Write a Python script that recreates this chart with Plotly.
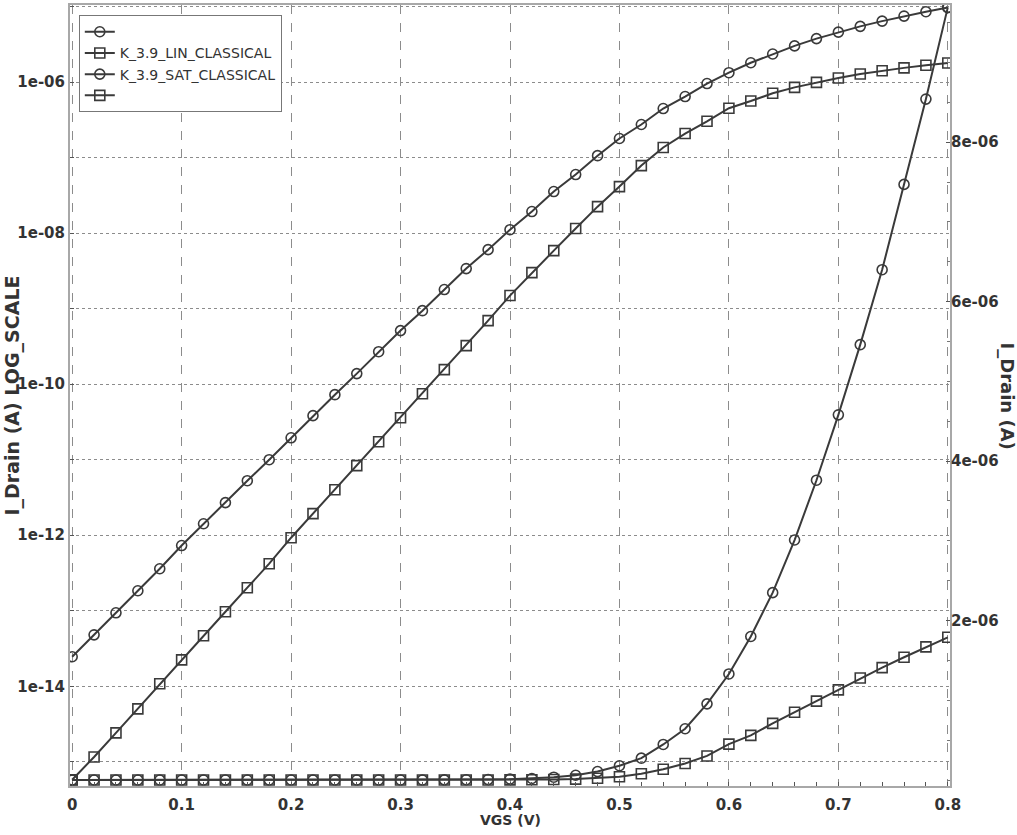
import plotly.graph_objects as go

# gate voltage sweep (V)
vgs = [0.00, 0.02, 0.04, 0.06, 0.08, 0.10, 0.12, 0.14, 0.16, 0.18,
       0.20, 0.22, 0.24, 0.26, 0.28, 0.30, 0.32, 0.34, 0.36, 0.38,
       0.40, 0.42, 0.44, 0.46, 0.48, 0.50, 0.52, 0.54, 0.56, 0.58,
       0.60, 0.62, 0.64, 0.66, 0.68, 0.70, 0.72, 0.74, 0.76, 0.78, 0.80]

# drain current, saturation (A)
id_sat = [2.46e-14, 4.8e-14, 9.4e-14, 1.84e-13, 3.6e-13, 7.3e-13, 1.42e-12, 2.70e-12, 5.27e-12, 1.0e-11,
          1.95e-11, 3.83e-11, 7.26e-11, 1.38e-10, 2.69e-10, 5.12e-10, 9.4e-10, 1.79e-09, 3.39e-09, 6.04e-09,
          1.11e-08, 1.93e-08, 3.55e-08, 5.96e-08, 1.06e-07, 1.79e-07, 2.74e-07, 4.46e-07, 6.43e-07, 9.55e-07,
          1.33e-06, 1.80e-06, 2.35e-06, 3.01e-06, 3.76e-06, 4.58e-06, 5.46e-06, 6.40e-06, 7.47e-06, 8.54e-06,
          9.69e-06]

# drain current, linear region (A)
id_lin = [5.8e-16, 1.16e-15, 2.42e-15, 5.03e-15, 1.08e-14, 2.24e-14, 4.67e-14, 9.7e-14, 2.02e-13, 4.2e-13,
          9.27e-13, 1.93e-12, 4.01e-12, 8.34e-12, 1.73e-11, 3.6e-11, 7.48e-11, 1.56e-10, 3.24e-10, 6.93e-10,
          1.49e-09, 3.0e-09, 5.86e-09, 1.15e-08, 2.24e-08, 4.13e-08, 7.83e-08, 1.36e-07, 2.08e-07, 3.02e-07,
          4.5e-07, 5.6e-07, 7.1e-07, 8.5e-07, 9.9e-07, 1.13e-06, 1.28e-06, 1.41e-06, 1.54e-06, 1.67e-06,
          1.79e-06]

x_ticks = [0, 0.1, 0.2, 0.3, 0.4, 0.5, 0.6, 0.7, 0.8]
x_labels = ["0", "0.1", "0.2", "0.3", "0.4", "0.5", "0.6", "0.7", "0.8"]
log_ticks = [1e-15, 1e-14, 1e-13, 1e-12, 1e-11, 1e-10, 1e-09, 1e-08, 1e-07, 1e-06, 1e-05]
log_labels = ["", "1e-14", "", "1e-12", "", "1e-10", "", "1e-08", "", "1e-06", ""]
lin_ticks = [2e-06, 4e-06, 6e-06, 8e-06]
lin_labels = ["2e-06", "4e-06", "6e-06", "8e-06"]

LINE = "#3a3a3a"
FRAME = "#a8a8a8"
GRID = "#8c8c8c"
FONT = "DejaVu Sans"
tick_font = dict(family=FONT, size=15, color="#333", weight="bold")

fig = go.Figure()


def add(y, name, symbol, axis):
    fig.add_trace(go.Scatter(
        x=vgs, y=y, name=name, yaxis=axis, mode="lines+markers",
        line=dict(color=LINE, width=2),
        marker=dict(symbol=symbol, size=10, color=LINE, line=dict(color=LINE, width=1.6)),
    ))


add(id_sat, " ", "circle-open", "y2")
add(id_lin, "K_3.9_LIN_CLASSICAL", "square-open", "y")
add(id_sat, "K_3.9_SAT_CLASSICAL", "circle-open", "y")
add(id_lin, "  ", "square-open", "y2")

fig.update_layout(
    width=1017, height=835,
    margin=dict(l=70, r=67, t=5, b=49),
    paper_bgcolor="white", plot_bgcolor="white",
    font=dict(family=FONT, color="#333"),
    showlegend=True,
    legend=dict(
        x=0.01, y=0.987, xanchor="left", yanchor="top",
        bgcolor="white", bordercolor="#777", borderwidth=1,
        font=dict(family=FONT, size=14, color="#333"),
        tracegroupgap=0, itemwidth=30,
    ),
    xaxis=dict(
        range=[-0.002, 0.802], tickvals=x_ticks, ticktext=x_labels, automargin=False,
        tickfont=tick_font, showgrid=True, gridcolor=GRID, griddash="dash", gridwidth=1,
        zeroline=False, showline=True, linecolor=FRAME, linewidth=2, mirror=True,
        ticks="inside", ticklen=4, tickcolor="#555", ticklabelstandoff=4,
        minor=dict(dtick=0.02, ticks="inside", ticklen=4, tickcolor="#555", showgrid=False),
    ),
    yaxis=dict(
        type="log", range=[-15.32, -4.98], tickvals=log_ticks, ticktext=log_labels, automargin=False,
        tickfont=tick_font, showgrid=True, gridcolor=GRID, griddash="dot", gridwidth=1,
        zeroline=False, showline=True, linecolor=FRAME, linewidth=2, mirror=True,
        ticks="inside", ticklen=4, tickcolor="#555",
    ),
    yaxis2=dict(
        overlaying="y", side="right", range=[-0.075e-06, 9.72e-06], automargin=False,
        tickvals=lin_ticks, ticktext=lin_labels, tickfont=tick_font,
        showgrid=False, zeroline=False, ticks="inside", ticklen=4, tickcolor="#555",
        minor=dict(dtick=0.5e-06, ticks="inside", ticklen=3, tickcolor="#777"),
    ),
    annotations=[
        dict(text="<b>I_Drain (A) LOG_SCALE</b>", xref="paper", yref="paper", x=0, y=0.5,
             xanchor="center", yanchor="middle", xshift=-58, textangle=-90, showarrow=False,
             font=dict(family=FONT, size=19, color="#333")),
        dict(text="<b>I_Drain (A)</b>", xref="paper", yref="paper", x=1, y=0.5,
             xanchor="center", yanchor="middle", xshift=57, textangle=90, showarrow=False,
             font=dict(family=FONT, size=18, color="#333")),
        dict(text="<b>VGS (V)</b>", xref="paper", yref="paper", x=0.5, y=0,
             xanchor="center", yanchor="middle", yshift=-34, showarrow=False,
             font=dict(family=FONT, size=14, color="#333")),
    ],
)

# drop the page's default body margin so the figure sits at the window origin
fig.write_html("out.html", config={"displayModeBar": False},
               post_script="document.body.style.margin='0';")
